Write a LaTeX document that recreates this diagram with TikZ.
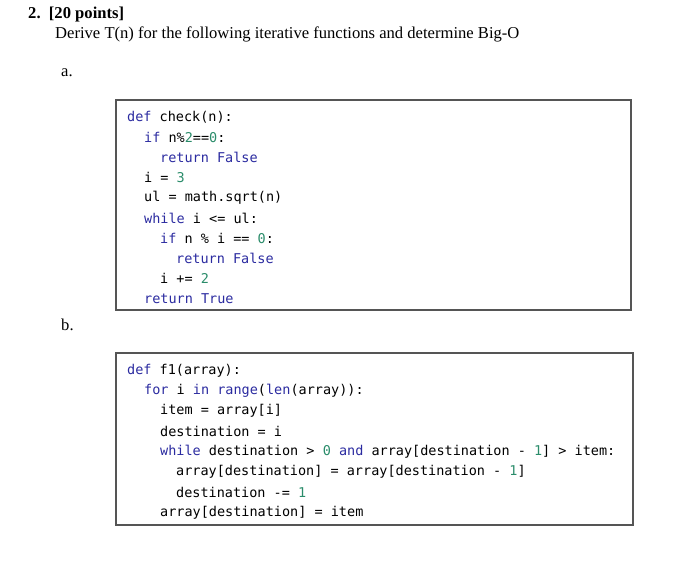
\documentclass[tikz,border=0pt]{standalone}
\usepackage{fontspec}
\setmainfont{Liberation Serif}
\newfontfamily\codefont{DejaVu Sans Mono}
\definecolor{kwc}{HTML}{2B2BA0}
\definecolor{nmc}{HTML}{2A8C6A}
\definecolor{boxc}{HTML}{555555}
\newcommand{\kw}[1]{\textcolor{kwc}{#1}}
\newcommand{\nm}[1]{\textcolor{nmc}{#1}}
\tikzset{
 cl/.style={anchor=west,inner sep=0pt,font=\codefont\fontsize{13.5}{16}\selectfont},
 tx/.style={anchor=west,inner sep=0pt,font=\fontsize{16.6}{19}\selectfont},
 codebox/.style={draw=boxc,line width=1.2pt}
}
\begin{document}
\begin{tikzpicture}[x=1pt,y=-1pt]
\useasboundingbox (0,0) rectangle (700,573);
\node[tx] (h1) at (28,15) {\textbf{2.\ \ [20 points]}};
\node[tx] (h2) at (55,34) {Derive T(n) for the following iterative functions and determine Big-O};
\node[tx] (la) at (61,73) {a.};
\node[tx] (lb) at (61,325) {b.};
\draw[codebox] (116,100) rectangle (631,310);
\node[cl] (a1) at (127,117) {\kw{def} check(n):};
\node[cl] (a2) at (144,137) {\kw{if} n\%\nm{2}==\nm{0}:};
\node[cl] (a3) at (160,157) {\kw{return} \kw{False}};
\node[cl] (a4) at (144,177) {i = \nm{3}};
\node[cl] (a5) at (144,198) {ul = math.sqrt(n)};
\node[cl] (a6) at (144,218) {\kw{while} i <= ul:};
\node[cl] (a7) at (160,238) {\kw{if} n \% i == \nm{0}:};
\node[cl] (a8) at (176,258) {\kw{return} \kw{False}};
\node[cl] (a9) at (160,278) {i += \nm{2}};
\node[cl] (a10) at (144,299) {\kw{return} \kw{True}};
\draw[codebox] (116,353) rectangle (633,525);
\node[cl] (b1) at (127,371) {\kw{def} f1(array):};
\node[cl] (b2) at (144,391) {\kw{for} i \kw{in} \kw{range}(\kw{len}(array)):};
\node[cl] (b3) at (160,411) {item = array[i]};
\node[cl] (b4) at (160,431) {destination = i};
\node[cl] (b5) at (160,452) {\kw{while} destination > \nm{0} \kw{and} array[destination - \nm{1}] > item:};
\node[cl] (b6) at (176,472) {array[destination] = array[destination - \nm{1}]};
\node[cl] (b7) at (176,492) {destination -= \nm{1}};
\node[cl] (b8) at (160,513) {array[destination] = item};
\end{tikzpicture}
\end{document}
